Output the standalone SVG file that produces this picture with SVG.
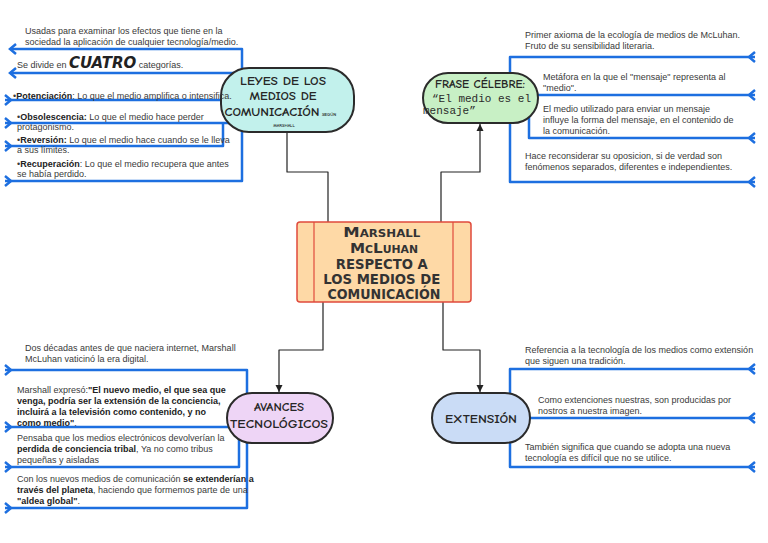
<svg xmlns="http://www.w3.org/2000/svg" width="768" height="543" viewBox="0 0 768 543">
<style>
.t{font-family:"Liberation Sans",Arial,sans-serif;font-size:9px;fill:#3a3a3a}
.b{font-weight:bold;fill:#222}
.br{fill:none;stroke:#1d6fe0;stroke-width:2.5;stroke-linejoin:round}
.k{fill:none;stroke:#222;stroke-width:1.2;stroke-linejoin:round}
.nd{stroke:#2b2b2b;stroke-width:2}
.cm{font-family:"Comic Sans MS","Comic Neue","DejaVu Sans",sans-serif;fill:#262626;font-size:11.5px;font-weight:bold;text-anchor:middle}
.mono{font-family:"Liberation Mono","Courier New",monospace;font-size:11px;fill:#2b2b2b}
.ctr{font-family:"DejaVu Sans Condensed","DejaVu Sans",sans-serif;font-stretch:condensed;font-weight:bold;font-size:14px;fill:#333;text-anchor:middle}
</style>
<defs>
<marker id="fw" markerUnits="userSpaceOnUse" markerWidth="14" markerHeight="14" viewBox="-10 -7 14 14" refX="0" refY="0" orient="auto" overflow="visible"><path d="M-6,-5 L0,0 L-6,5" fill="none" stroke="#1d6fe0" stroke-width="2.5"/></marker>
<marker id="rv" markerUnits="userSpaceOnUse" markerWidth="14" markerHeight="14" viewBox="-10 -7 14 14" refX="0" refY="0" orient="auto" overflow="visible"><path d="M0,-5 L-6,0 L0,5" fill="none" stroke="#1d6fe0" stroke-width="2.5"/></marker>
<marker id="ka" markerUnits="userSpaceOnUse" markerWidth="10" markerHeight="10" viewBox="-8 -5 10 10" refX="0" refY="0" orient="auto" overflow="visible"><path d="M-7,-3.5 L0,0 L-7,3.5 Z" fill="#222"/></marker>
</defs>
<rect width="768" height="543" fill="#fff"/>

<g id="connectors">
<path class="k" d="M287,133 V172 H328 V222"/>
<path class="k" d="M441,222 V172 H480 V124" marker-end="url(#ka)"/>
<path class="k" d="M323,302 V350 H279 V392" marker-end="url(#ka)"/>
<path class="k" d="M443,302 V350 H480 V392" marker-end="url(#ka)"/>

<path class="br" d="M242,80 V49 H10" marker-end="url(#fw)"/>
<path class="br" d="M250,73 H10" marker-end="url(#fw)"/>
<path class="br" d="M250,100 H5" marker-end="url(#rv)"/>
<path class="br" d="M250,123 H5" marker-end="url(#rv)"/>
<path class="br" d="M223,123 V146 H5" marker-end="url(#rv)"/>
<path class="br" d="M242,120 V181 H5" marker-end="url(#rv)"/>

<path class="br" d="M510,90 V57 H755" marker-end="url(#rv)"/>
<path class="br" d="M525,95 H755" marker-end="url(#rv)"/>
<path class="br" d="M529,110 V138 H755" marker-end="url(#rv)"/>
<path class="br" d="M510,110 V182 H755" marker-end="url(#rv)"/>

<path class="br" d="M510,405 V369 H755" marker-end="url(#rv)"/>
<path class="br" d="M520,418 H755" marker-end="url(#rv)"/>
<path class="br" d="M510,430 V467 H755" marker-end="url(#rv)"/>

<path class="br" d="M247,405 V370 H5" marker-end="url(#rv)"/>
<path class="br" d="M240,427 H5" marker-end="url(#rv)"/>
<path class="br" d="M239,430 V467 H5" marker-end="url(#rv)"/>
<path class="br" d="M247,430 V508 H5" marker-end="url(#rv)"/>
</g>

<g id="center">
<rect x="297" y="222" width="174" height="80" rx="3" fill="#fed9a6" stroke="#e04a3c" stroke-width="1.5"/>
<line x1="314" y1="222" x2="314" y2="302" stroke="#e04a3c" stroke-width="1.2"/>
<line x1="453" y1="222" x2="453" y2="302" stroke="#e04a3c" stroke-width="1.2"/>
<text class="ctr" style="font-variant:small-caps">
<tspan x="384" y="237" textLength="77" lengthAdjust="spacingAndGlyphs">Marshall</tspan>
<tspan x="384" y="253" textLength="68" lengthAdjust="spacingAndGlyphs">McLuhan</tspan>
</text>
<text class="ctr">
<tspan x="384" y="269" textLength="92" lengthAdjust="spacingAndGlyphs">RESPECTO A</tspan>
<tspan x="384" y="284" textLength="117" lengthAdjust="spacingAndGlyphs">LOS MEDIOS DE</tspan>
<tspan x="384" y="299" textLength="113" lengthAdjust="spacingAndGlyphs">COMUNICACIÓN</tspan>
</text>
</g>

<g id="leyes">
<rect class="nd" x="221" y="68" width="133" height="64" rx="28" fill="#c2f1ec"/>
<text class="cm" x="283" y="85" textLength="86" lengthAdjust="spacingAndGlyphs">LEYES DE LOS</text>
<text class="cm" x="283" y="100" textLength="67" lengthAdjust="spacingAndGlyphs">MEDIOS DE</text>
<text class="cm" x="272" y="116" textLength="95" lengthAdjust="spacingAndGlyphs">COMUNICACIÓN</text>
<text class="cm" x="329" y="116" style="font-size:4.5px">SEGÚN</text>
<text class="cm" x="284" y="127" style="font-size:4.5px">MARSHALL</text>
</g>

<g id="leyes-text">
<text class="t"><tspan x="25" y="34">Usadas para examinar los efectos que tiene en la</tspan><tspan x="25" y="45">sociedad la aplicación de cualquier tecnología/medio.</tspan></text>
<text class="t" x="17" y="68">Se divide en <tspan style="font-family:'Comic Sans MS','DejaVu Sans',sans-serif;font-size:15px;font-weight:bold;font-style:italic;fill:#222">CUATRO</tspan> categorías.</text>
<text class="t" x="13" y="99">•<tspan class="b">Potenciación</tspan>: Lo que el medio amplifica o intensifica.</text>
<text class="t"><tspan x="17" y="120">•<tspan class="b">Obsolescencia:</tspan> Lo que el medio hace perder</tspan><tspan x="17" y="130">protagonismo.</tspan></text>
<text class="t"><tspan x="17" y="143">•<tspan class="b">Reversión:</tspan> Lo que el medio hace cuando se le lleva</tspan><tspan x="17" y="153">a sus límites.</tspan></text>
<text class="t"><tspan x="17" y="167">•<tspan class="b">Recuperación</tspan>: Lo que el medio recupera que antes</tspan><tspan x="17" y="177">se había perdido.</tspan></text>
</g>

<g id="frase">
<rect class="nd" x="423" y="73" width="115" height="50" rx="25" fill="#c8f0c5"/>
<text class="cm" x="480" y="88" style="font-size:11px" textLength="90" lengthAdjust="spacingAndGlyphs">FRASE CÉLEBRE:</text>
<text class="mono" x="432" y="102">“El medio es el</text>
<text class="mono" x="423" y="114">mensaje”</text>
</g>

<g id="frase-text">
<text class="t"><tspan x="525" y="38">Primer axioma de la ecología de medios de McLuhan.</tspan><tspan x="525" y="49">Fruto de su sensibilidad literaria.</tspan></text>
<text class="t"><tspan x="543" y="80">Metáfora en la que el "mensaje" representa al</tspan><tspan x="543" y="91">"medio".</tspan></text>
<text class="t"><tspan x="543" y="112">El medio utilizado para enviar un mensaje</tspan><tspan x="543" y="123">influye la forma del mensaje, en el contenido de</tspan><tspan x="543" y="134">la comunicación.</tspan></text>
<text class="t"><tspan x="525" y="159">Hace reconsiderar su oposicion, si de verdad son</tspan><tspan x="525" y="170">fenómenos separados, diferentes e independientes.</tspan></text>
</g>

<g id="avances">
<rect class="nd" x="227" y="393" width="106" height="50" rx="25" fill="#eed5f6"/>
<text class="cm" x="279" y="411" textLength="50" lengthAdjust="spacingAndGlyphs">AVANCES</text>
<text class="cm" x="279" y="428" textLength="98" lengthAdjust="spacingAndGlyphs">TECNOLÓGICOS</text>
</g>

<g id="avances-text">
<text class="t"><tspan x="25" y="351">Dos décadas antes de que naciera internet, Marshall</tspan><tspan x="25" y="362">McLuhan vaticinó la era digital.</tspan></text>
<text class="t"><tspan x="17" y="393">Marshall expresó:<tspan class="b">"El nuevo medio, el que sea que</tspan></tspan><tspan class="b" x="17" y="404">venga, podría ser la extensión de la conciencia,</tspan><tspan class="b" x="17" y="415">incluirá a la televisión como contenido, y no</tspan><tspan x="17" y="426"><tspan class="b">como medio"</tspan>.</tspan></text>
<text class="t"><tspan x="17" y="441">Pensaba que los medios electrónicos devolverían la</tspan><tspan x="17" y="452"><tspan class="b">perdida de conciencia tribal</tspan>, Ya no como tribus</tspan><tspan x="17" y="463">pequeñas y aisladas</tspan></text>
<text class="t"><tspan x="17" y="482">Con los nuevos medios de comunicación <tspan class="b">se extenderían a</tspan></tspan><tspan x="17" y="493"><tspan class="b">través del planeta</tspan>, haciendo que formemos parte de una</tspan><tspan x="17" y="504"><tspan class="b">"aldea global"</tspan>.</tspan></text>
</g>

<g id="extension">
<rect class="nd" x="432" y="393" width="98" height="50" rx="25" fill="#cadcf6"/>
<text class="cm" x="481" y="423" textLength="72" lengthAdjust="spacingAndGlyphs">EXTENSIÓN</text>
</g>

<g id="extension-text">
<text class="t"><tspan x="525" y="353">Referencia a la tecnología de los medios como extensión</tspan><tspan x="525" y="364">que siguen una tradición.</tspan></text>
<text class="t"><tspan x="538" y="403">Como extenciones nuestras, son producidas por</tspan><tspan x="538" y="414">nostros a nuestra imagen.</tspan></text>
<text class="t"><tspan x="525" y="450">También significa que cuando se adopta una nueva</tspan><tspan x="525" y="461">tecnología es difícil que no se utilice.</tspan></text>
</g>
</svg>
